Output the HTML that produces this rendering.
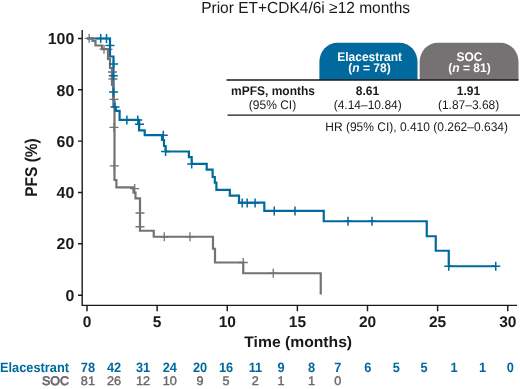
<!DOCTYPE html>
<html><head><meta charset="utf-8"><title>PFS</title>
<style>
html,body{margin:0;padding:0;background:#fff}
svg{display:block;font-family:"Liberation Sans",Arial,Helvetica,sans-serif}
</style></head><body>
<svg width="520" height="389" viewBox="0 0 520 389" text-rendering="geometricPrecision">
<rect width="520" height="389" fill="#fff"/>
<g font-size="16" fill="#1a1a1a"><text transform="translate(305.60 12.60) scale(0.969 1.000)" text-anchor="middle">Prior ET+CDK4/6i ≥12 months</text></g>
<!-- axes -->
<path d="M82.2 30V305.4H517" fill="none" stroke="#1a1a1a" stroke-width="1.4"/>
<path d="M87.00 305.4V311.3M157.12 305.4V311.3M227.25 305.4V311.3M297.38 305.4V311.3M367.50 305.4V311.3M437.62 305.4V311.3M507.75 305.4V311.3M78 295.20H82.2M78 243.84H82.2M78 192.48H82.2M78 141.12H82.2M78 89.76H82.2M78 38.40H82.2" fill="none" stroke="#1a1a1a" stroke-width="1.45"/>
<g font-size="15.5" font-weight="bold" fill="#1a1a1a"><text transform="translate(87.00 327.10)" text-anchor="middle">0</text><text transform="translate(157.12 327.10)" text-anchor="middle">5</text><text transform="translate(227.25 327.10)" text-anchor="middle">10</text><text transform="translate(297.38 327.10)" text-anchor="middle">15</text><text transform="translate(367.50 327.10)" text-anchor="middle">20</text><text transform="translate(437.62 327.10)" text-anchor="middle">25</text><text transform="translate(507.75 327.10)" text-anchor="middle">30</text></g>
<g font-size="15.9" font-weight="bold" fill="#1a1a1a"><text transform="translate(74.30 300.90)" text-anchor="end">0</text><text transform="translate(74.30 249.34)" text-anchor="end">20</text><text transform="translate(74.30 198.48)" text-anchor="end">40</text><text transform="translate(74.30 147.22)" text-anchor="end">60</text><text transform="translate(74.30 95.66)" text-anchor="end">80</text><text transform="translate(74.30 44.10)" text-anchor="end">100</text></g>
<text transform="translate(37.4 167.5) scale(1.10 1) rotate(-90)" text-anchor="middle" font-size="15.5" font-weight="bold" fill="#1a1a1a">PFS (%)</text>
<g font-size="15.7" font-weight="bold" fill="#1a1a1a"><text transform="translate(298.20 347.20) scale(1.000 0.970)" text-anchor="middle">Time (months)</text></g>
<!-- curves -->
<path d="M87.00 38.50 L110.00 38.50 L110.00 56.50 L113.50 56.50 L113.50 107.00 L115.80 107.00 L115.80 110.80 L119.60 110.80 L119.60 119.80 L139.00 119.80 L139.00 130.30 L144.70 130.30 L144.70 135.20 L162.00 135.20 L162.00 140.00 L164.00 140.00 L164.00 146.00 L165.60 146.00 L165.60 151.50 L188.90 151.50 L188.90 157.20 L191.70 157.20 L191.70 163.90 L206.70 163.90 L206.70 169.60 L212.60 169.60 L212.60 177.00 L214.80 177.00 L214.80 182.70 L216.40 182.70 L216.40 189.80 L229.80 189.80 L229.80 195.60 L239.00 195.60 L239.00 202.70 L264.30 202.70 L264.30 210.90 L323.75 210.90 L323.75 221.25 L426.75 221.25 L426.75 236.25 L435.75 236.25 L435.75 250.75 L448.75 250.75 L448.75 266.25 L495.75 266.25" fill="none" stroke="#00699D" stroke-width="2.2" stroke-linejoin="miter"/>
<path d="M87.00 38.30 L92.50 38.30 L92.50 41.00 L95.50 41.00 L95.50 45.50 L102.00 45.50 L102.00 49.20 L108.00 49.20 L108.00 59.00 L110.00 59.00 L110.00 68.00 L112.00 68.00 L112.00 85.00 L113.20 85.00 L113.20 100.00 L114.50 100.00 L114.50 180.00 L116.40 180.00 L116.40 187.30 L133.50 187.30 L133.50 192.70 L135.50 192.70 L135.50 198.30 L140.00 198.30 L140.00 230.75 L153.75 230.75 L153.75 236.75 L213.00 236.75 L213.00 248.75 L215.00 248.75 L215.00 262.50 L243.25 262.50 L243.25 273.25 L320.75 273.25 L320.75 294.50" fill="none" stroke="#767172" stroke-width="2.2" stroke-linejoin="miter"/>
<path d="M84.70 38.30H93.70M89.20 33.80V42.80 M99.50 49.20H108.50M104.00 44.70V53.70 M108.00 72.00H117.00M112.50 67.50V76.50 M108.50 79.00H117.50M113.00 74.50V83.50 M109.50 99.40H118.50M114.00 94.90V103.90 M109.50 127.40H118.50M114.00 122.90V131.90 M109.80 165.90H118.80M114.30 161.40V170.40 M130.20 188.60H139.20M134.70 184.10V193.10 M135.50 213.00H144.50M140.00 208.50V217.50 M135.50 226.75H144.50M140.00 222.25V231.25 M159.75 236.75H168.75M164.25 232.25V241.25 M185.50 236.75H194.50M190.00 232.25V241.25 M238.75 262.50H247.75M243.25 258.00V267.00 M268.75 273.25H277.75M273.25 268.75V277.75 M108 49.3H112.5" fill="none" stroke="#767172" stroke-width="1.3"/>
<path d="M96.20 38.50H105.20M100.70 34.00V43.00 M102.00 38.50H111.00M106.50 34.00V43.00 M105.50 45.50H114.50M110.00 41.00V50.00 M109.00 64.00H118.00M113.50 59.50V68.50 M108.80 75.80H117.80M113.30 71.30V80.30 M109.00 92.00H118.00M113.50 87.50V96.50 M110.50 107.00H119.50M115.00 102.50V111.50 M122.40 120.00H131.40M126.90 115.50V124.50 M133.30 120.00H142.30M137.80 115.50V124.50 M135.00 124.30H144.00M139.50 119.80V128.80 M158.80 135.20H167.80M163.30 130.70V139.70 M161.10 151.50H170.10M165.60 147.00V156.00 M187.20 163.90H196.20M191.70 159.40V168.40 M237.70 202.90H246.70M242.20 198.40V207.40 M242.70 202.90H251.70M247.20 198.40V207.40 M250.60 202.90H259.60M255.10 198.40V207.40 M269.75 210.90H278.75M274.25 206.40V215.40 M290.50 210.90H299.50M295.00 206.40V215.40 M343.50 221.25H352.50M348.00 216.75V225.75 M367.50 221.25H376.50M372.00 216.75V225.75 M444.25 266.25H453.25M448.75 261.75V270.75 M491.25 266.25H500.25M495.75 261.75V270.75" fill="none" stroke="#00699D" stroke-width="1.5"/>
<!-- table -->
<path d="M319.4 80V61.8A18 19 0 0 1 337.4 42.8H399.5A18 19 0 0 1 417.5 61.8V80Z" fill="#00699D"/>
<path d="M419.7 80V61.8A18 19 0 0 1 437.7 42.8H500.5A18 19 0 0 1 518.5 61.8V80Z" fill="#767172"/>
<path d="M226.5 80H518.5M227.5 115.1H520" fill="none" stroke="#1a1a1a" stroke-width="1.3"/>
<g font-size="12" font-weight="bold" fill="#fff">
<text transform="translate(369.60 60.90) scale(1.000 1.040)" text-anchor="middle">Elacestrant</text>
<text transform="translate(369.50 72.30) scale(1.000 1.040)" text-anchor="middle">(<tspan font-style="italic">n</tspan> = 78)</text>
<text transform="translate(469.50 60.90) scale(1.000 1.040)" text-anchor="middle">SOC</text>
<text transform="translate(469.50 72.30) scale(1.000 1.040)" text-anchor="middle">(<tspan font-style="italic">n</tspan> = 81)</text>
</g>
<g font-size="12" fill="#1a1a1a">
<text transform="translate(273.00 95.10) scale(1.000 1.040)" text-anchor="middle" font-weight="bold">mPFS, months</text>
<text transform="translate(272.50 109.40) scale(1.000 1.040)" text-anchor="middle">(95% CI)</text>
<text transform="translate(367.50 95.10) scale(1.000 1.040)" text-anchor="middle" font-weight="bold">8.61</text>
<text transform="translate(367.70 109.40) scale(1.000 1.040)" text-anchor="middle">(4.14–10.84)</text>
<text transform="translate(468.50 95.10) scale(1.000 1.040)" text-anchor="middle" font-weight="bold">1.91</text>
<text transform="translate(468.60 109.40) scale(1.000 1.040)" text-anchor="middle">(1.87–3.68)</text>
<text transform="translate(416.60 130.60) scale(1.000 1.040)" text-anchor="middle">HR (95% CI), 0.410 (0.262–0.634)</text>
</g>
<!-- at risk -->
<g font-size="12.8" font-weight="bold" fill="#00699D">
<text transform="translate(69.00 371.95) scale(1.000 1.060)" text-anchor="end">Elacestrant</text><text transform="translate(87.90 371.95) scale(1.000 1.060)" text-anchor="middle">78</text><text transform="translate(114.10 371.95) scale(1.000 1.060)" text-anchor="middle">42</text><text transform="translate(143.10 371.95) scale(1.000 1.060)" text-anchor="middle">31</text><text transform="translate(169.75 371.95) scale(1.000 1.060)" text-anchor="middle">24</text><text transform="translate(200.00 371.95) scale(1.000 1.060)" text-anchor="middle">20</text><text transform="translate(226.00 371.95) scale(1.000 1.060)" text-anchor="middle">16</text><text transform="translate(255.40 371.95) scale(1.000 1.060)" text-anchor="middle">11</text><text transform="translate(281.00 371.95) scale(1.000 1.060)" text-anchor="middle">9</text><text transform="translate(311.50 371.95) scale(1.000 1.060)" text-anchor="middle">8</text><text transform="translate(337.90 371.95) scale(1.000 1.060)" text-anchor="middle">7</text><text transform="translate(367.90 371.95) scale(1.000 1.060)" text-anchor="middle">6</text><text transform="translate(396.20 371.95) scale(1.000 1.060)" text-anchor="middle">5</text><text transform="translate(424.00 371.95) scale(1.000 1.060)" text-anchor="middle">5</text><text transform="translate(454.00 371.95) scale(1.000 1.060)" text-anchor="middle">1</text><text transform="translate(482.50 371.95) scale(1.000 1.060)" text-anchor="middle">1</text><text transform="translate(510.25 371.95) scale(1.000 1.060)" text-anchor="middle">0</text>
</g>
<g font-size="12.7" fill="#6C6768" stroke="#6C6768" stroke-width="0.4">
<text transform="translate(69.00 385.40) scale(0.980 0.980)" text-anchor="end" stroke-width="0.75">SOC</text><text transform="translate(87.90 385.40) scale(1.000 0.980)" text-anchor="middle">81</text><text transform="translate(114.10 385.40) scale(1.000 0.980)" text-anchor="middle">26</text><text transform="translate(143.10 385.40) scale(1.000 0.980)" text-anchor="middle">12</text><text transform="translate(169.75 385.40) scale(1.000 0.980)" text-anchor="middle">10</text><text transform="translate(200.00 385.40) scale(1.000 0.980)" text-anchor="middle">9</text><text transform="translate(226.00 385.40) scale(1.000 0.980)" text-anchor="middle">5</text><text transform="translate(255.40 385.40) scale(1.000 0.980)" text-anchor="middle">2</text><text transform="translate(281.00 385.40) scale(1.000 0.980)" text-anchor="middle">1</text><text transform="translate(311.50 385.40) scale(1.000 0.980)" text-anchor="middle">1</text><text transform="translate(337.90 385.40) scale(1.000 0.980)" text-anchor="middle">0</text>
</g>
</svg>
</body></html>
